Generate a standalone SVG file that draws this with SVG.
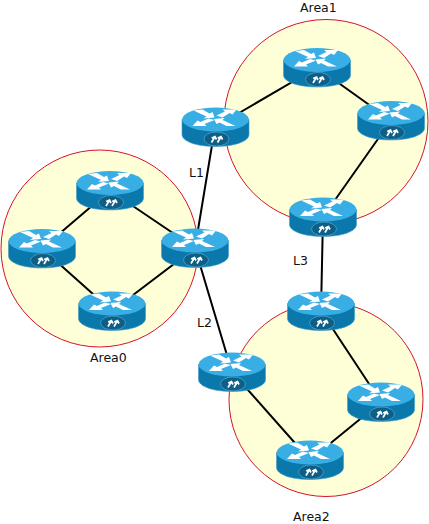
<svg xmlns="http://www.w3.org/2000/svg" width="429" height="524" viewBox="0 0 429 524">
<style>
.area{fill:#ffffd7;stroke:#d4122e;stroke-width:1}
.link{stroke:#000;stroke-width:2;fill:none}
text{font-family:"DejaVu Sans",sans-serif;font-size:12.5px;fill:#111}
.base{fill:#0a78ab;stroke:#3f9cc6;stroke-width:.6}
.top{fill:#39aee4}
.arr{fill:#fff}
.badge{fill:#0d5f88;stroke:#5ea9cb;stroke-width:.7}
</style>
<defs>
<g id="router">
<path class="base" d="M-33.500-7.500V7.500C-33.500 14.500-18.500 19.500 0 19.500S33.500 14.500 33.500 7.500V-7.500Z"/>
<ellipse class="top" cx="0" cy="-7.500" rx="33.500" ry="12"/>
<path class="arr" d="M-22-16.500L-13-17.500-6-13.500-3-15-1-9.500-12-8.500-9-10.500Z"/>
<path class="arr" d="M21-17.500L7-17.500 9.500-15.500 1-11.500 7-9.500 14-14 17-12.500Z"/>
<path class="arr" d="M-23-1L-9-1-11-3-1-7-7-8.500-15-5-18-6.500Z"/>
<path class="arr" d="M20-1L11-1 4-4.500 1-3-1.500-8 9-9 7-7Z"/>
<ellipse class="badge" cx="1" cy="12" rx="12.500" ry="7"/>
<path d="M-4 15.500L-1 10.500M-3.800 11L-.5 9.500 1 12.500M2 15.500L5 10.500M2.200 11L5.500 9.500 7 12.500" stroke="#fff" stroke-width="1.700" fill="none"/>
</g>
</defs>
<g id="areas">
<circle class="area" cx="99.500" cy="248.500" r="98.500"/>
<circle class="area" cx="326" cy="121.500" r="102"/>
<circle class="area" cx="326" cy="399.500" r="97"/>
</g>
<g id="connectors">
<path class="link" d="M317 67.500L215 127M317 67.500L391 120.500M391 120.500L323 217M215 127L195 248M323 217L321 311M110 190.500L42 248.500M110 190.500L195 248M42 248.500L112 311M112 311L195 248M195 248L232 372M321 311L381 402M381 402L310 460M310 460L232 372"/>
</g>
<g id="r1"><use href="#router" x="317" y="67.500"/></g>
<g id="r2"><use href="#router" x="391" y="120.500"/></g>
<g id="r3"><use href="#router" x="215.500" y="127"/></g>
<g id="r4"><use href="#router" x="323" y="217"/></g>
<g id="r5"><use href="#router" x="110" y="190.500"/></g>
<g id="r6"><use href="#router" x="42" y="248.500"/></g>
<g id="r7"><use href="#router" x="195" y="248"/></g>
<g id="r8"><use href="#router" x="112" y="311"/></g>
<g id="r9"><use href="#router" x="321" y="311"/></g>
<g id="r10"><use href="#router" x="232" y="372"/></g>
<g id="r11"><use href="#router" x="381" y="402"/></g>
<g id="r12"><use href="#router" x="310" y="460"/></g>
<g id="labels">
<text x="300" y="12">Area1</text>
<text x="90" y="362">Area0</text>
<text x="293" y="521">Area2</text>
<text x="189" y="177">L1</text>
<text x="197" y="327">L2</text>
<text x="293" y="265">L3</text>
</g>
</svg>
